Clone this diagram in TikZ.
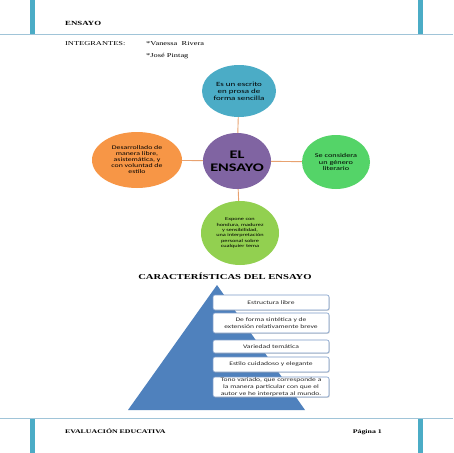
\documentclass[tikz,border=0pt]{standalone}
\usepackage{fontspec}
\setmainfont{Liberation Serif}[FakeStretch=1.4]
\newfontfamily\calibfont{Carlito}[FakeStretch=1.4]
\usetikzlibrary{shapes.geometric, shadows}
\definecolor{barblue}{RGB}{75,172,198}
\definecolor{rulecol}{RGB}{160,196,216}
\definecolor{aquabub}{RGB}{75,172,198}
\definecolor{essaypurple}{RGB}{128,100,162}
\definecolor{orangebub}{RGB}{247,150,70}
\definecolor{greenbub}{RGB}{84,212,104}
\definecolor{limebub}{RGB}{146,208,80}
\definecolor{linkorange}{RGB}{232,162,112}
\definecolor{pyrblue}{RGB}{79,129,189}
\definecolor{boxblue}{RGB}{122,155,201}
\tikzset{
    bubble/.style={ellipse, inner sep=0pt, align=center, text=black},
    link/.style={draw=linkorange, line width=0.9pt},
    trait/.style={rectangle, rounded corners=2pt, draw=boxblue, fill=white, line width=0.6pt,
        minimum width=116pt, text width=112pt, align=center, inner sep=0pt, text=black!85,
        drop shadow={shadow xshift=0.8pt, shadow yshift=-0.8pt, opacity=0.3},
        font=\calibfont\fontsize{5.4}{7}\selectfont},
    pagetext/.style={anchor=base west, inner sep=0pt}
}
\begin{document}
\begin{tikzpicture}[x=1pt, y=-1pt]
    \useasboundingbox (0,0) rectangle (453,453);
    \fill[white] (0,0) rectangle (453,453);
    % page frame
    \foreach \x in {30,418} {
        \fill[barblue] (\x,0) rectangle ++(5,34);
        \fill[barblue] (\x,418) rectangle ++(5,35);
    }
    \draw[rulecol, line width=0.8pt] (0,34) -- (453,34);
    \draw[rulecol, line width=0.8pt] (0,418) -- (453,418);
    \node[pagetext, font=\bfseries\fontsize{6.3}{7}\selectfont] (head) at (65,25) {ENSAYO};
    \node[pagetext, font=\fontsize{6}{7}\selectfont] (members) at (65,45) {INTEGRANTES:};
    \node[pagetext, font=\fontsize{6}{7}\selectfont] (memberA) at (146,45) {*Vanessa\ \ Rivera};
    \node[pagetext, font=\fontsize{6}{7}\selectfont] (memberB) at (146,57) {*José\ Pintag};
    \node[pagetext, font=\bfseries\fontsize{5.6}{7}\selectfont] (foot) at (65,433) {EVALUACIÓN EDUCATIVA};
    \node[anchor=base east, inner sep=0pt, font=\bfseries\fontsize{5.6}{7}\selectfont] (pagenum) at (382,433) {Página 1};

    % mapa del ensayo
    \node[bubble, fill=essaypurple, minimum width=68pt, minimum height=56pt, inner xsep=-8pt,
        font=\calibfont\bfseries\fontsize{11.6}{13}\selectfont] (essay) at (237,161) {EL\\ENSAYO};
    \node[bubble, fill=aquabub, minimum width=74pt, minimum height=52pt,
        font=\calibfont\fontsize{6.4}{7}\selectfont] (prose) at (239,91) {Es un escrito\\en prosa de\\forma sencilla};
    \node[bubble, fill=orangebub, minimum width=90pt, minimum height=56pt,
        font=\calibfont\fontsize{5.6}{6}\selectfont] (free) at (137,160) {Desarrollado de\\manera libre,\\asistemática, y\\con voluntad de\\estilo};
    \node[bubble, fill=greenbub, minimum width=68pt, minimum height=54pt,
        font=\calibfont\fontsize{5.9}{6.2}\selectfont] (genre) at (336,162) {Se considera\\un género\\literario};
    \node[bubble, fill=limebub, minimum width=78pt, minimum height=64pt,
        font=\calibfont\fontsize{4.5}{5.3}\selectfont] (view) at (240,233) {Expone con\\hondura, madurez\\y sensibilidad,\\una interpretación\\personal sobre\\cualquier tema};
    \draw[link] (essay) -- (prose);
    \draw[link] (essay) -- (free);
    \draw[link] (essay) -- (genre);
    \draw[link] (essay) -- (view);

    % piramide
    \node[inner sep=0pt, font=\bfseries\fontsize{7.6}{8}\selectfont] (title) at (225,276) {CARACTERÍSTICAS DEL ENSAYO};
    \fill[pyrblue] (217,285) -- (305,410) -- (128,410) -- cycle;
    \foreach \nm/\yc/\hgt/\txt in {
        trfree/302.5/15/{Estructura libre},
        trbrief/323/20/{De forma sintética y de\\extensión\ relativamente breve},
        trtheme/346.5/13/{Variedad temática},
        trstyle/364.5/15/{Estilo cuidadoso\ y elegante},
        trtone/387/20/{Tono variado, que corresponde a\\la manera particular con que el\\autor ve he interpreta al mundo.}
    } {
        \node[trait, minimum height=\hgt pt] (\nm) at (271,\yc) {\txt};
    }
\end{tikzpicture}
\end{document}
